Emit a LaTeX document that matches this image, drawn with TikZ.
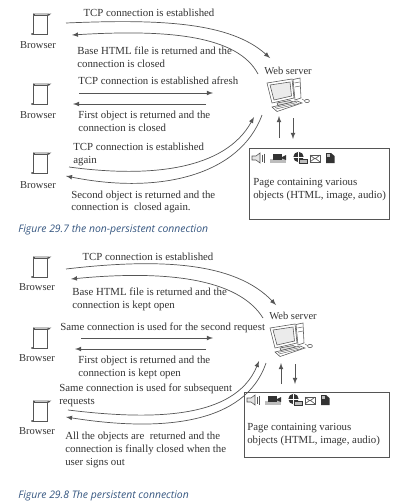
\documentclass[tikz,border=0pt]{standalone}
\usepackage{fontspec}
\setmainfont{Liberation Serif}
\newfontfamily\capfont{Open Sans}
\usepackage{tikz}
\usetikzlibrary{calc,arrows.meta}
\definecolor{ws-text}{HTML}{333333}
\definecolor{ws-line}{HTML}{555555}
\definecolor{ws-cap}{HTML}{34557F}
\definecolor{ws-soft}{HTML}{BDBDBD}

\tikzset{
    pics/scrollicon/.style={code={
        \draw[ws-line, line width=0.4pt] (2.5,1.5) -- (2.5,20.5) -- (16.5,20.5) -- (16.5,1.5);
        \draw[ws-line, line width=0.7pt, rounded corners=0.8pt] (2.5,1.5) -- (2.5,0) -- (19,0) -- (17.5,1.5) -- cycle;
        \fill[ws-text] (1.2,20) circle (1);
    }},
    pics/pcicon/.style={code={
        % monitor
        \draw[ws-line, line width=0.4pt, fill=white] (1,5) -- (26,1) -- (28,20) -- (6,25) -- cycle;
        \draw[ws-line, line width=0.4pt, fill=ws-soft!30] (4,7) -- (24,4) -- (25.5,18) -- (8,22) -- cycle;
        % tower
        \draw[ws-line, line width=0.4pt, fill=white] (27,1.5) -- (34,0) -- (35,20) -- (29,22) -- cycle;
        \draw[ws-line, line width=0.3pt] (28.5,5) -- (33.5,4) (29,9) -- (34,8);
        % stand, keyboard, mouse
        \draw[ws-line, line width=0.4pt, fill=ws-soft!50] (11,25) -- (24,22.5) -- (27,24) -- (12,27.5) -- cycle;
        \draw[ws-line, line width=0.4pt, fill=white] (6,29) -- (31,23) -- (36,25) -- (11,33.5) -- cycle;
        \draw[ws-line, line width=0.3pt] (9,29.5) -- (31,24.5) (10,31) -- (33,25.5);
        \draw[ws-line, line width=0.4pt, fill=white] (41,23) ellipse (2.4 and 1.7);
        \draw[ws-line, line width=0.3pt] (36,21) -- (38.6,22.6);
    }},
    pics/objicons/.style={code={
        % speaker
        \draw[ws-line, line width=0.4pt, fill=ws-soft!40] (3,-2) -- (7,-2) -- (11,-5) -- (11,5) -- (7,2) -- (3,2) -- cycle;
        \draw[ws-line, line width=0.4pt] (13,-3.5) -- (13,3.5) (15.5,-4.5) -- (15.5,4.5);
        % camera
        \fill[ws-soft] (21,1) rectangle (37,5);
        \fill[ws-text] (24,-4) rectangle (33,2);
        \fill[ws-text] (33,-1) -- (37,-3) -- (37,2) -- (33,0.5) -- cycle;
        % globe with letter
        \fill[ws-text] (49.5,-1) circle (5.2);
        \draw[white, line width=0.3pt] (44.3,-1) -- (54.7,-1) (49.5,-6.2) -- (49.5,4.2);
        \draw[ws-text, line width=0.4pt, fill=ws-soft] (50,1) rectangle (58,5.5);
        % envelope
        \draw[ws-line, line width=0.5pt, fill=white] (61,-3) rectangle (71,4);
        \draw[ws-line, line width=0.4pt] (61,-3) -- (66,1) -- (71,-3) (61,4) -- (66,0) -- (71,4);
        % page
        \fill[ws-text] (77,-5) -- (82,-5) -- (85.5,-2) -- (85.5,5) -- (77,5) -- cycle;
        \fill[ws-soft] (78,-4) rectangle (81,-1);
    }}
}

\begin{document}
\begin{tikzpicture}[
    x=0.25mm, y=-0.25mm,
    >=latex,
    msg/.style={anchor=west, align=left, inner sep=0pt, text=ws-text, font=\fontsize{7.7}{9.1}\selectfont},
    browser/.style={msg, anchor=center, font=\fontsize{7.5}{9.1}\selectfont},
    conn/.style={->, draw=ws-line, line width=0.5pt},
    figcap/.style={anchor=west, inner sep=0pt, text=ws-cap, font=\capfont\itshape\fontsize{7.4}{8}\selectfont},
    pagebox/.style={draw=ws-line, line width=0.6pt, anchor=north west, inner sep=0pt}
]
\useasboundingbox (0,0) rectangle (405,502);

% =========================================================================
% NON-PERSISTENT: browsers
% =========================================================================
\pic at (31,14) {scrollicon};
\pic at (31,84) {scrollicon};
\pic at (31,153) {scrollicon};
\node[browser] (b1) at (38,45) {Browser};
\node[browser] (b2) at (38,115) {Browser};
\node[browser] (b3) at (38,185) {Browser};

% =========================================================================
% NON-PERSISTENT: messages
% =========================================================================
\node[msg, anchor=center] (m1) at (149,13) {TCP connection is established};
\node[msg] (m2) at (77,57) {Base HTML file is returned and the\\connection is closed};
\node[msg] (m3) at (78,81) {TCP connection is established afresh};
\node[msg] (m4) at (78,121) {First object is returned and the\\connection is closed};
\node[msg] (m5) at (73,154.5) {TCP connection is established\\again};
\node[msg] (m6) at (71,202) {Second object is returned and the\\connection is\ \ closed again.};
\node[figcap] (c1) at (18,230) {Figure 29.7 the non-persistent connection};

% =========================================================================
% NON-PERSISTENT: web server and page
% =========================================================================
\node[browser] (srv1) at (288,71) {Web server};
\pic at (266,78) {pcicon};
\node[pagebox, minimum width=99.5pt, minimum height=50.5pt] (page1) at (249,148) {};
\pic at (249,158) {objicons};
\node[msg] (t1) at (253,189.5) {Page containing various\\objects (HTML, image, audio)};

\coordinate (a1s) at (66,23);
\coordinate (a1e) at (270,58);
\coordinate (a2s) at (258,74);
\coordinate (a2e) at (72,35);
\coordinate (a3s) at (79,93);
\coordinate (a3e) at (213,93);
\coordinate (a4s) at (206,104);
\coordinate (a4e) at (73,104);
\coordinate (a5s) at (69,167);
\coordinate (a5e) at (254,117);
\coordinate (a6s) at (262,115);
\coordinate (a6e) at (66,176);
\coordinate (a7s) at (279,138);
\coordinate (a7e) at (279,116);
\coordinate (a8s) at (293,118);
\coordinate (a8e) at (293,139);

\draw[conn] (a1s) .. controls (160,19) and (230,22) .. (a1e);
\draw[conn] (a2s) .. controls (238,36) and (170,29) .. (a2e);
\draw[conn] (a3s) -- (a3e);
\draw[conn] (a4s) -- (a4e);
\draw[conn] (a5s) .. controls (150,178) and (225,170) .. (a5e);
\draw[conn] (a6s) .. controls (240,175) and (160,195) .. (a6e);
\draw[conn] (a7s) -- (a7e);
\draw[conn] (a8s) -- (a8e);

% =========================================================================
% PERSISTENT: browsers
% =========================================================================
\pic at (31,257) {scrollicon};
\pic at (31,328) {scrollicon};
\pic at (31,401) {scrollicon};
\node[browser] (b4) at (37,287) {Browser};
\node[browser] (b5) at (37,358) {Browser};
\node[browser] (b6) at (37,431) {Browser};

% =========================================================================
% PERSISTENT: messages
% =========================================================================
\node[msg, anchor=center] (m7) at (148,257) {TCP connection is established};
\node[msg] (m8) at (72,299.5) {Base HTML file is returned and the\\connection is kept open};
\node[msg] (m9) at (60,328) {Same connection is used for the second request};
\node[msg] (m10) at (78,367.5) {First object is returned and the\\connection is kept open};
\node[msg] (m11) at (59,395.5) {Same connection is used for subsequent\\requests};
\node[msg] (m12) at (65,450) {All the objects are\ \ returned and the\\connection is finally closed when the\\user signs out};
\node[figcap] (c2) at (18,496) {Figure 29.8 The persistent connection};

% =========================================================================
% PERSISTENT: web server and page
% =========================================================================
\node[browser] (srv2) at (293,316) {Web server};
\pic at (269,323) {pcicon};
\node[pagebox, minimum width=103pt, minimum height=46.5pt] (page2) at (244,392) {};
\pic at (244,400) {objicons};
\node[msg] (t2) at (247,434.5) {Page containing various\\objects (HTML, image, audio)};

\coordinate (d1s) at (66,269);
\coordinate (d1e) at (276,305);
\coordinate (d2s) at (263,318);
\coordinate (d2e) at (71,279);
\coordinate (d3s) at (81,338);
\coordinate (d3e) at (213,338);
\coordinate (d4s) at (206,349);
\coordinate (d4e) at (75,349);
\coordinate (d5s) at (68,410);
\coordinate (d5e) at (259,361);
\coordinate (d6s) at (266,363);
\coordinate (d6e) at (66,417);
\coordinate (d7s) at (281,384);
\coordinate (d7e) at (281,363);
\coordinate (d8s) at (295,364);
\coordinate (d8e) at (295,384);

\draw[conn] (d1s) .. controls (160,258) and (235,262) .. (d1e);
\draw[conn] (d2s) .. controls (238,278) and (165,270) .. (d2e);
\draw[conn] (d3s) -- (d3e);
\draw[conn] (d4s) -- (d4e);
\draw[conn] (d5s) .. controls (150,420) and (235,420) .. (d5e);
\draw[conn] (d6s) .. controls (245,425) and (160,432) .. (d6e);
\draw[conn] (d7s) -- (d7e);
\draw[conn] (d8s) -- (d8e);

\end{tikzpicture}
\end{document}
